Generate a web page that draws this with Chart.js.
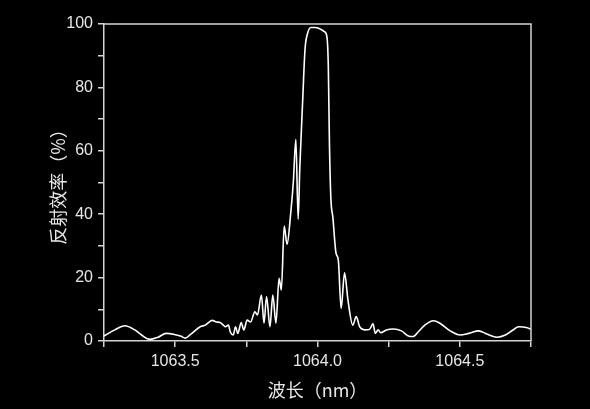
<!DOCTYPE html>
<html>
<head>
<meta charset="utf-8">
<script src="https://cdn.jsdelivr.net/npm/chart.js@4.4.1/dist/chart.umd.min.js"></script>
<style>
  html, body { margin: 0; padding: 0; background: #000; }
  #wrap { width: 590px; height: 409px; position: relative; }
</style>
</head>
<body>
<div id="wrap"><canvas id="myChart"></canvas></div>
<script>
// 파장 (nm)
const wavelength = [
  1063.25, 1063.288, 1063.323, 1063.358, 1063.383, 1063.411, 1063.44, 1063.468, 1063.50, 1063.521,
  1063.535, 1063.553, 1063.588, 1063.606, 1063.63, 1063.645, 1063.659, 1063.669, 1063.677, 1063.687,
  1063.694, 1063.704, 1063.712, 1063.72, 1063.732, 1063.741, 1063.753, 1063.765, 1063.78, 1063.789,
  1063.803, 1063.812, 1063.821, 1063.833, 1063.843, 1063.854, 1063.865, 1063.873, 1063.883, 1063.893,
  1063.906, 1063.915, 1063.924, 1063.932, 1063.938, 1063.948, 1063.956, 1063.965, 1063.977, 1063.991,
  1064.006, 1064.024, 1064.033, 1064.038, 1064.042, 1064.047, 1064.054, 1064.065, 1064.073, 1064.083,
  1064.095, 1064.107, 1064.124, 1064.136, 1064.148, 1064.165, 1064.182, 1064.195, 1064.203, 1064.213,
  1064.222, 1064.242, 1064.266, 1064.295, 1064.319, 1064.336, 1064.355, 1064.377, 1064.407, 1064.43,
  1064.466, 1064.501, 1064.531, 1064.566, 1064.595, 1064.631, 1064.66, 1064.684, 1064.707, 1064.737,
  1064.75
];

// 반사율 (%)
const reflectance = [
  1.6, 3.5, 4.8, 3.5, 1.8, 0.5, 1.2, 2.4, 2.0, 1.5,
  0.9, 2.0, 4.5, 5.0, 6.5, 6.0, 5.8, 5.0, 4.5, 5.0,
  2.8, 1.9, 4.5, 2.4, 5.8, 3.5, 6.6, 6.0, 9.2, 8.2,
  14.5, 5.6, 14.0, 4.5, 14.5, 5.6, 19.8, 16.1, 36.3, 30.5,
  40.4, 50.0, 63.6, 38.4, 55.0, 76.0, 91.8, 97.0, 98.9, 98.9,
  98.6, 97.6, 96.0, 86.5, 62.0, 45.0, 39.0, 27.7, 25.6, 10.3,
  21.5, 12.9, 5.0, 7.7, 4.5, 3.5, 3.6, 5.4, 2.4, 3.5,
  2.6, 3.5, 3.8, 3.2, 1.6, 1.4, 3.0, 5.0, 6.4, 5.6,
  3.2, 1.9, 2.4, 3.2, 2.2, 1.2, 1.9, 3.3, 4.5, 4.2,
  3.7
];

const xTickLabels = ['1063.5', '1064.0', '1064.5'];
const yTickLabels = ['0', '20', '40', '60', '80', '100'];

const axisColor = '#d4d4d4';
const textColor = '#e6e6e6';

// 위쪽, 오른쪽 테두리
const frame = {
  id: 'frame',
  afterDraw(chart) {
    const { ctx, chartArea: a } = chart;
    ctx.save();
    ctx.strokeStyle = axisColor;
    ctx.lineWidth = 1.5;
    ctx.beginPath();
    ctx.moveTo(a.left, a.top);
    ctx.lineTo(a.right, a.top);
    ctx.lineTo(a.right, a.bottom);
    ctx.stroke();
    ctx.restore();
  }
};

const data = {
  datasets: [{
    data: wavelength.map((w, i) => ({ x: w, y: reflectance[i] })),
    borderColor: '#ffffff',
    borderWidth: 1.6,
    pointRadius: 0,
    cubicInterpolationMode: 'monotone',
  }]
};

const config = {
  type: 'line',
  data: data,
  options: {
    animation: false,
    responsive: true,
    maintainAspectRatio: false,
    layout: { padding: { top: 24, right: 59, left: 0, bottom: 0 } },
    plugins: { legend: false, tooltip: false },
    scales: {
      x: {
        type: 'linear',
        min: 1063.25,
        max: 1064.75,
        afterFit: (s) => { s.height = 68; },
        border: { color: axisColor, width: 1.5 },
        grid: { drawOnChartArea: false, color: axisColor, tickLength: 6, lineWidth: 1.5 },
        ticks: {
          stepSize: 0.25,
          autoSkip: false,
          maxRotation: 0,
          padding: 5,
          color: textColor,
          font: { family: "'Liberation Sans', Arial, sans-serif", size: 16 },
          callback: (v) => {
            const t = (Math.round(v * 4) / 4).toFixed(1);
            return xTickLabels.includes(t) && Math.round(v * 4) % 2 === 0 ? t : '';
          }
        },
        title: {
          display: true,
          text: '波长（nm）',
          color: textColor,
          padding: { top: 0, bottom: 8 },
          font: { family: "'Noto Sans CJK SC', sans-serif", size: 18 },
        }
      },
      y: {
        min: 0,
        max: 100,
        afterFit: (s) => { s.width = 104; },
        border: { color: axisColor, width: 1.5 },
        grid: { drawOnChartArea: false, color: axisColor, tickLength: 6, lineWidth: 1.5 },
        ticks: {
          stepSize: 10,
          autoSkip: false,
          padding: 5,
          color: textColor,
          font: { family: "'Liberation Sans', Arial, sans-serif", size: 16 },
          callback: (v) => yTickLabels.includes(String(v)) ? String(v) : ''
        },
        title: {
          display: true,
          text: '反射效率（%）',
          color: textColor,
          padding: { top: 47, bottom: 0 },
          font: { family: "'Noto Sans CJK SC', sans-serif", size: 18 },
        }
      }
    }
  },
  plugins: [frame]
};

const myChart = new Chart(document.getElementById('myChart'), config);
</script>
</body>
</html>
